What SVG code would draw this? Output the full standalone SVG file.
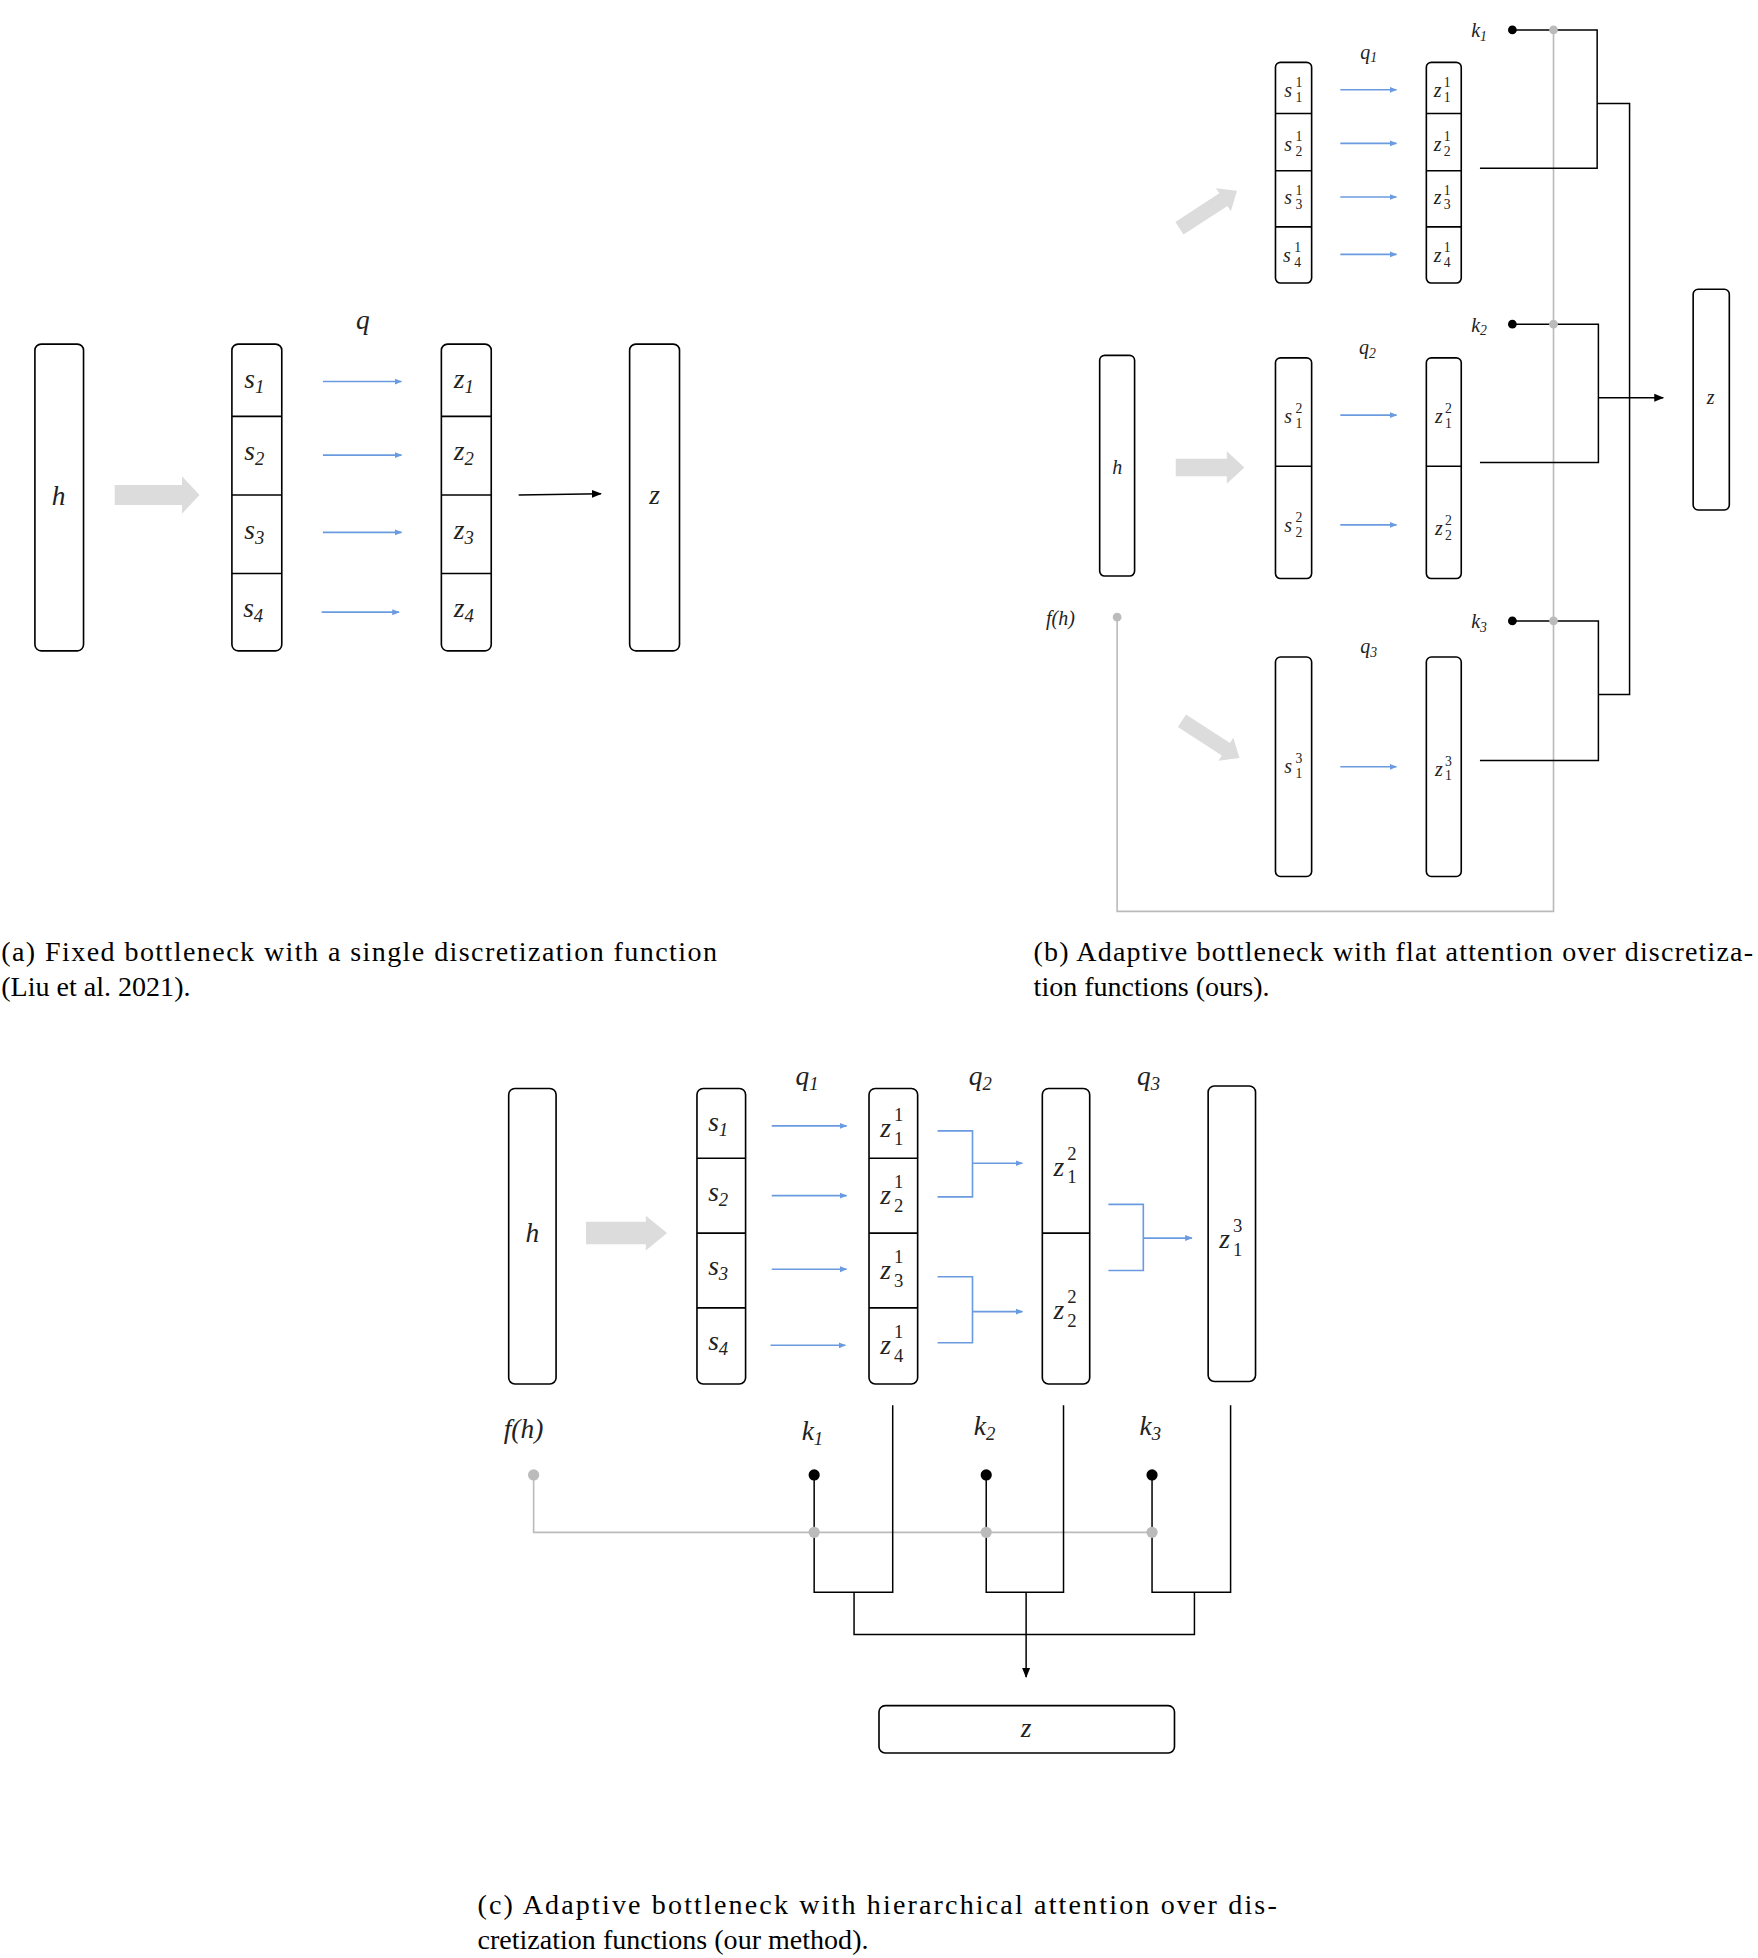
<svg xmlns="http://www.w3.org/2000/svg" width="1758" height="1958" viewBox="0 0 1758 1958">
<defs>
<style>
.bx{fill:#fff;stroke:#000;stroke-width:1.3}
.dv{stroke:#000;stroke-width:1.3}
.bl{stroke:#6a9be0;stroke-width:1.3;fill:none}
.bk{stroke:#000;stroke-width:1.2;fill:none}
.gy{stroke:#bbb;stroke-width:1.3;fill:none}
.ga{fill:#dcdcdc}
.m{font-family:"Liberation Serif",serif;font-style:italic;fill:#222}
.n{font-family:"Liberation Serif",serif;fill:#222}
.a{font-size:22px}.as{font-size:15px}
.b{font-size:16px}.bs{font-size:11px}
.c{font-size:22px}.cs{font-size:15px}
.cap{font-family:"Liberation Serif",serif;font-size:22.5px;fill:#000}
</style>
<marker id="mb" viewBox="0 0 10 10" refX="9" refY="5" markerWidth="6" markerHeight="6" orient="auto" markerUnits="userSpaceOnUse"><path d="M0,1 L10,5 L0,9Z" fill="#6a9be0"/></marker>
<marker id="mk" viewBox="0 0 10 10" refX="9" refY="5" markerWidth="8" markerHeight="8" orient="auto" markerUnits="userSpaceOnUse"><path d="M0,1 L10,5 L0,9Z" fill="#000"/></marker>
</defs>
<g transform="scale(1.2468)">
<!-- Panel a -->
<g id="a-h"><rect class="bx" x="28" y="276" width="39" height="246" rx="5"/><text class="m a" x="47" y="405" text-anchor="middle">h</text></g>
<g id="a-s"><rect class="bx" x="186" y="276" width="40" height="246" rx="5"/>
<line class="dv" x1="186" y1="334" x2="226" y2="334"/><line class="dv" x1="186" y1="397" x2="226" y2="397"/><line class="dv" x1="186" y1="460" x2="226" y2="460"/>
<text class="m a" x="196" y="311">s<tspan class="n as" dy="4">1</tspan></text>
<text class="m a" x="196" y="369">s<tspan class="n as" dy="4">2</tspan></text>
<text class="m a" x="196" y="432">s<tspan class="n as" dy="4">3</tspan></text>
<text class="m a" x="195" y="495">s<tspan class="n as" dy="4">4</tspan></text></g>
<g id="a-z"><rect class="bx" x="354" y="276" width="40" height="246" rx="5"/>
<line class="dv" x1="354" y1="334" x2="394" y2="334"/><line class="dv" x1="354" y1="397" x2="394" y2="397"/><line class="dv" x1="354" y1="460" x2="394" y2="460"/>
<text class="m a" x="364" y="311">z<tspan class="n as" dy="4">1</tspan></text>
<text class="m a" x="364" y="369">z<tspan class="n as" dy="4">2</tspan></text>
<text class="m a" x="364" y="432">z<tspan class="n as" dy="4">3</tspan></text>
<text class="m a" x="364" y="495">z<tspan class="n as" dy="4">4</tspan></text></g>
<g id="a-out"><rect class="bx" x="505" y="276" width="40" height="246" rx="5"/><text class="m a" x="525" y="404" text-anchor="middle">z</text></g>
<text class="m a" x="291" y="264" text-anchor="middle">q</text>
<g id="a-conn">
<polygon class="ga" points="92,389 146,389 146,382 160,397 146,412 146,405 92,405"/>
<line class="bl" x1="259" y1="306" x2="322" y2="306" marker-end="url(#mb)"/>
<line class="bl" x1="259" y1="365" x2="322" y2="365" marker-end="url(#mb)"/>
<line class="bl" x1="259" y1="427" x2="322" y2="427" marker-end="url(#mb)"/>
<line class="bl" x1="258" y1="491" x2="320" y2="491" marker-end="url(#mb)"/>
<line class="bk" x1="416" y1="397" x2="482" y2="396" marker-end="url(#mk)"/>
</g>
<text class="cap" x="1" y="771" textLength="574" lengthAdjust="spacing">(a)  Fixed bottleneck with a single discretization function</text>
<text class="cap" x="1" y="799">(Liu et al. 2021).</text>

<!-- Panel b -->
<g id="b-conn">
<polyline class="gy" points="896,495 896,731 1246,731 1246,24"/>
<polyline class="bk" points="1213,24 1281,24 1281,135 1187,135"/>
<polyline class="bk" points="1281,83 1307,83 1307,557 1282,557"/>
<polyline class="bk" points="1213,260 1282,260 1282,371 1187,371"/>
<line class="bk" x1="1282" y1="319" x2="1334" y2="319" marker-end="url(#mk)"/>
<polyline class="bk" points="1213,498 1282,498 1282,610 1187,610"/>
<circle cx="1213" cy="24" r="3.5" fill="#000"/><circle cx="1246" cy="24" r="3.5" fill="#bbb"/>
<circle cx="1213" cy="260" r="3.5" fill="#000"/><circle cx="1246" cy="260" r="3.5" fill="#bbb"/>
<circle cx="1213" cy="498" r="3.5" fill="#000"/><circle cx="1246" cy="498" r="3.5" fill="#bbb"/>
<circle cx="896" cy="495" r="3.5" fill="#bbb"/>
<polygon class="ga" points="0,-6 42,-6 42,-11 55,0 42,11 42,6 0,6" transform="translate(946,183) rotate(-33)"/>
<polygon class="ga" points="943,368 984,368 984,362 998,375 984,388 984,382 943,382"/>
<polygon class="ga" points="0,-6 42,-6 42,-11 55,0 42,11 42,6 0,6" transform="translate(948,578) rotate(33)"/>
<line class="bl" x1="1075" y1="72" x2="1120" y2="72" marker-end="url(#mb)"/>
<line class="bl" x1="1075" y1="115" x2="1120" y2="115" marker-end="url(#mb)"/>
<line class="bl" x1="1075" y1="158" x2="1120" y2="158" marker-end="url(#mb)"/>
<line class="bl" x1="1075" y1="204" x2="1120" y2="204" marker-end="url(#mb)"/>
<line class="bl" x1="1075" y1="333" x2="1120" y2="333" marker-end="url(#mb)"/>
<line class="bl" x1="1075" y1="421" x2="1120" y2="421" marker-end="url(#mb)"/>
<line class="bl" x1="1075" y1="615" x2="1120" y2="615" marker-end="url(#mb)"/>
</g>
<text class="m b" x="1180" y="30">k<tspan class="n bs" dy="3">1</tspan></text>
<text class="m b" x="1180" y="266">k<tspan class="n bs" dy="3">2</tspan></text>
<text class="m b" x="1180" y="504">k<tspan class="n bs" dy="3">3</tspan></text>
<text class="m b" x="1091" y="47">q<tspan class="n bs" dy="3">1</tspan></text>
<text class="m b" x="1090" y="284">q<tspan class="n bs" dy="3">2</tspan></text>
<text class="m b" x="1091" y="524">q<tspan class="n bs" dy="3">3</tspan></text>
<text class="m b" x="839" y="501">f<tspan class="n">(</tspan>h<tspan class="n">)</tspan></text>
<g id="b-h"><rect class="bx" x="882" y="285" width="28" height="177" rx="4"/><text class="m b" x="896" y="380" text-anchor="middle">h</text></g>
<g id="b-zout"><rect class="bx" x="1358" y="232" width="29" height="177" rx="4"/><text class="m b" x="1372" y="324" text-anchor="middle">z</text></g>
<g id="b-s1"><rect class="bx" x="1023" y="50" width="29" height="177" rx="4"/>
<line class="dv" x1="1023" y1="91" x2="1052" y2="91"/><line class="dv" x1="1023" y1="137" x2="1052" y2="137"/><line class="dv" x1="1023" y1="182" x2="1052" y2="182"/>
<text class="m b" x="1030" y="78">s</text><text class="n bs" x="1039" y="70">1</text><text class="n bs" x="1039" y="82">1</text>
<text class="m b" x="1030" y="121">s</text><text class="n bs" x="1039" y="113">1</text><text class="n bs" x="1039" y="125">2</text>
<text class="m b" x="1030" y="164">s</text><text class="n bs" x="1039" y="156">1</text><text class="n bs" x="1039" y="168">3</text>
<text class="m b" x="1029" y="210">s</text><text class="n bs" x="1038" y="202">1</text><text class="n bs" x="1038" y="214">4</text></g>
<g id="b-z1"><rect class="bx" x="1144" y="50" width="28" height="177" rx="4"/>
<line class="dv" x1="1144" y1="91" x2="1172" y2="91"/><line class="dv" x1="1144" y1="137" x2="1172" y2="137"/><line class="dv" x1="1144" y1="182" x2="1172" y2="182"/>
<text class="m b" x="1150" y="78">z</text><text class="n bs" x="1158" y="70">1</text><text class="n bs" x="1158" y="82">1</text>
<text class="m b" x="1150" y="121">z</text><text class="n bs" x="1158" y="113">1</text><text class="n bs" x="1158" y="125">2</text>
<text class="m b" x="1150" y="164">z</text><text class="n bs" x="1158" y="156">1</text><text class="n bs" x="1158" y="168">3</text>
<text class="m b" x="1150" y="210">z</text><text class="n bs" x="1158" y="202">1</text><text class="n bs" x="1158" y="214">4</text></g>
<g id="b-s2"><rect class="bx" x="1023" y="287" width="29" height="177" rx="4"/>
<line class="dv" x1="1023" y1="374" x2="1052" y2="374"/>
<text class="m b" x="1030" y="339">s</text><text class="n bs" x="1039" y="331">2</text><text class="n bs" x="1039" y="343">1</text>
<text class="m b" x="1030" y="427">s</text><text class="n bs" x="1039" y="419">2</text><text class="n bs" x="1039" y="431">2</text></g>
<g id="b-z2"><rect class="bx" x="1144" y="287" width="28" height="177" rx="4"/>
<line class="dv" x1="1144" y1="374" x2="1172" y2="374"/>
<text class="m b" x="1151" y="339">z</text><text class="n bs" x="1159" y="331">2</text><text class="n bs" x="1159" y="343">1</text>
<text class="m b" x="1151" y="429">z</text><text class="n bs" x="1159" y="421">2</text><text class="n bs" x="1159" y="433">2</text></g>
<g id="b-s3"><rect class="bx" x="1023" y="527" width="29" height="176" rx="4"/>
<text class="m b" x="1030" y="620">s</text><text class="n bs" x="1039" y="612">3</text><text class="n bs" x="1039" y="624">1</text></g>
<g id="b-z3"><rect class="bx" x="1144" y="527" width="28" height="176" rx="4"/>
<text class="m b" x="1151" y="622">z</text><text class="n bs" x="1159" y="614">3</text><text class="n bs" x="1159" y="626">1</text></g>
<text class="cap" x="829" y="771" textLength="577" lengthAdjust="spacing">(b)  Adaptive bottleneck with flat attention over discretiza-</text>
<text class="cap" x="829" y="799">tion functions (ours).</text>

<!-- Panel c -->
<g id="c-conn">
<polygon class="ga" points="470,980 518,980 518,975 535,989 518,1003 518,998 470,998"/>
<line class="bl" x1="619" y1="903" x2="679" y2="903" marker-end="url(#mb)"/>
<line class="bl" x1="619" y1="959" x2="679" y2="959" marker-end="url(#mb)"/>
<line class="bl" x1="619" y1="1018" x2="679" y2="1018" marker-end="url(#mb)"/>
<line class="bl" x1="618" y1="1079" x2="678" y2="1079" marker-end="url(#mb)"/>
<polyline class="bl" points="752,907 780,907 780,960 752,960"/>
<line class="bl" x1="780" y1="933" x2="820" y2="933" marker-end="url(#mb)"/>
<polyline class="bl" points="752,1024 780,1024 780,1077 752,1077"/>
<line class="bl" x1="780" y1="1052" x2="820" y2="1052" marker-end="url(#mb)"/>
<polyline class="bl" points="889,966 917,966 917,1019 889,1019"/>
<line class="bl" x1="917" y1="993" x2="956" y2="993" marker-end="url(#mb)"/>
<polyline class="gy" points="428,1183 428,1229 924,1229"/>
<polyline class="bk" points="653,1183 653,1277 716,1277 716,1127"/>
<polyline class="bk" points="791,1183 791,1277 853,1277 853,1127"/>
<polyline class="bk" points="924,1183 924,1277 987,1277 987,1127"/>
<polyline class="bk" points="685,1277 685,1311 958,1311 958,1277"/>
<line class="bk" x1="823" y1="1277" x2="823" y2="1345" marker-end="url(#mk)"/>
<circle cx="428" cy="1183" r="4.5" fill="#bbb"/>
<circle cx="653" cy="1183" r="4.5" fill="#000"/><circle cx="791" cy="1183" r="4.5" fill="#000"/><circle cx="924" cy="1183" r="4.5" fill="#000"/>
<circle cx="653" cy="1229" r="4.5" fill="#bbb"/><circle cx="791" cy="1229" r="4.5" fill="#bbb"/><circle cx="924" cy="1229" r="4.5" fill="#bbb"/>
</g>
<g id="c-h"><rect class="bx" x="408" y="873" width="38" height="237" rx="5"/><text class="m c" x="427" y="996" text-anchor="middle">h</text></g>
<g id="c-s"><rect class="bx" x="559" y="873" width="39" height="237" rx="5"/>
<line class="dv" x1="559" y1="929" x2="598" y2="929"/><line class="dv" x1="559" y1="989" x2="598" y2="989"/><line class="dv" x1="559" y1="1049" x2="598" y2="1049"/>
<text class="m c" x="568" y="907">s<tspan class="n cs" dy="4">1</tspan></text>
<text class="m c" x="568" y="963">s<tspan class="n cs" dy="4">2</tspan></text>
<text class="m c" x="568" y="1023">s<tspan class="n cs" dy="4">3</tspan></text>
<text class="m c" x="568" y="1083">s<tspan class="n cs" dy="4">4</tspan></text></g>
<g id="c-z1"><rect class="bx" x="697" y="873" width="39" height="237" rx="5"/>
<line class="dv" x1="697" y1="929" x2="736" y2="929"/><line class="dv" x1="697" y1="989" x2="736" y2="989"/><line class="dv" x1="697" y1="1049" x2="736" y2="1049"/>
<text class="m c" x="706" y="912">z</text><text class="n cs" x="717" y="899">1</text><text class="n cs" x="717" y="918">1</text>
<text class="m c" x="706" y="966">z</text><text class="n cs" x="717" y="953">1</text><text class="n cs" x="717" y="972">2</text>
<text class="m c" x="706" y="1026">z</text><text class="n cs" x="717" y="1013">1</text><text class="n cs" x="717" y="1032">3</text>
<text class="m c" x="706" y="1086">z</text><text class="n cs" x="717" y="1073">1</text><text class="n cs" x="717" y="1092">4</text></g>
<g id="c-z2"><rect class="bx" x="836" y="873" width="38" height="237" rx="5"/>
<line class="dv" x1="836" y1="989" x2="874" y2="989"/>
<text class="m c" x="845" y="943">z</text><text class="n cs" x="856" y="930">2</text><text class="n cs" x="856" y="949">1</text>
<text class="m c" x="845" y="1058">z</text><text class="n cs" x="856" y="1045">2</text><text class="n cs" x="856" y="1064">2</text></g>
<g id="c-z3"><rect class="bx" x="969" y="871" width="38" height="237" rx="5"/>
<text class="m c" x="978" y="1001">z</text><text class="n cs" x="989" y="988">3</text><text class="n cs" x="989" y="1007">1</text></g>
<g id="c-zout"><rect class="bx" x="705" y="1368" width="237" height="38" rx="5"/><text class="m c" x="823" y="1393" text-anchor="middle">z</text></g>
<text class="m c" x="638" y="870">q<tspan class="n cs" dy="4">1</tspan></text>
<text class="m c" x="777" y="870">q<tspan class="n cs" dy="4">2</tspan></text>
<text class="m c" x="912" y="870">q<tspan class="n cs" dy="4">3</tspan></text>
<text class="m c" x="643" y="1155">k<tspan class="n cs" dy="4">1</tspan></text>
<text class="m c" x="781" y="1151">k<tspan class="n cs" dy="4">2</tspan></text>
<text class="m c" x="914" y="1151">k<tspan class="n cs" dy="4">3</tspan></text>
<text class="m c" x="404" y="1153">f<tspan class="n">(</tspan>h<tspan class="n">)</tspan></text>
<text class="cap" x="383" y="1535" textLength="641" lengthAdjust="spacing">(c)  Adaptive bottleneck with hierarchical attention over dis-</text>
<text class="cap" x="383" y="1563">cretization functions (our method).</text>
</g>
</svg>
